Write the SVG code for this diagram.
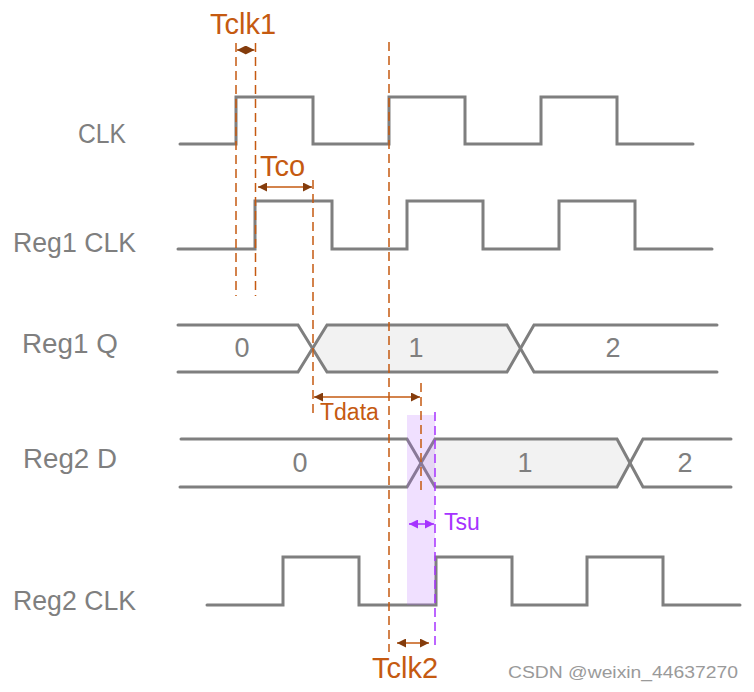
<svg xmlns="http://www.w3.org/2000/svg" width="754" height="692" viewBox="0 0 754 692">
<style>
.wave{fill:none;stroke:#7f7f7f;stroke-width:3;stroke-linecap:round;stroke-linejoin:miter}
.bus{fill:#f2f2f2;stroke:none}
.lbl{font-family:"Liberation Sans",Arial,sans-serif;font-size:27px;fill:#7f7f7f}
.val{font-family:"Liberation Sans",Arial,sans-serif;font-size:27px;fill:#7f7f7f;text-anchor:middle}
.ot{font-family:"Liberation Sans",Arial,sans-serif;fill:#c55a11}
.pt{font-family:"Liberation Sans",Arial,sans-serif;fill:#a633ff}
.od{stroke:#c55a11;stroke-width:1.5;stroke-dasharray:9,5;fill:none}
.pd{stroke:#a633ff;stroke-width:1.5;stroke-dasharray:9,5;fill:none}
.oa{stroke:#c55a11;stroke-width:1.5;fill:none;marker-start:url(#ah);marker-end:url(#ah)}
.pa{stroke:#a633ff;stroke-width:1.5;fill:none;marker-start:url(#ph);marker-end:url(#ph)}
.wm{font-family:"Liberation Sans",Arial,sans-serif;font-size:16px;fill:#9a9a9a}
</style>
<defs>
<marker id="ah" viewBox="0 0 10 10" refX="10" refY="5" markerWidth="6" markerHeight="6" orient="auto-start-reverse" markerUnits="strokeWidth">
<path d="M0,0 L10,5 L0,10 z" fill="#843c0c"/>
</marker>
<marker id="ph" viewBox="0 0 10 10" refX="10" refY="5" markerWidth="6" markerHeight="6" orient="auto-start-reverse" markerUnits="strokeWidth">
<path d="M0,0 L10,5 L0,10 z" fill="#a633ff"/>
</marker>
</defs>
<rect width="754" height="692" fill="#ffffff"/>

<g id="labels">
<text class="lbl" x="78" y="143" textLength="48" lengthAdjust="spacingAndGlyphs">CLK</text>
<text class="lbl" x="13" y="252" textLength="123" lengthAdjust="spacingAndGlyphs">Reg1 CLK</text>
<text class="lbl" x="22" y="353" textLength="96" lengthAdjust="spacingAndGlyphs">Reg1 Q</text>
<text class="lbl" x="23" y="468" textLength="94" lengthAdjust="spacingAndGlyphs">Reg2 D</text>
<text class="lbl" x="13" y="610" textLength="123" lengthAdjust="spacingAndGlyphs">Reg2 CLK</text>
</g>

<g id="clk">
<path class="wave" d="M180,144 H236 V97 H313 V144 H389 V97 H465 V144 H541 V97 H617 V144 H693"/>
</g>
<g id="reg1clk">
<path class="wave" d="M178,249 H255 V201 H332 V249 H407 V201 H483 V249 H559 V201 H635 V249 H712"/>
</g>
<g id="reg1q">
<polygon class="bus" points="312.5,348.5 327,325 507,325 520.5,348.5 507,372 327,372"/>
<path class="wave" d="M178,325 H298 L327,372 H507 L534,325 H717"/>
<path class="wave" d="M178,372 H298 L327,325 H507 L534,372 H717"/>
<text class="val" x="242" y="357">0</text>
<text class="val" x="416" y="357">1</text>
<text class="val" x="613" y="357">2</text>
</g>
<g id="reg2d">
<polygon class="bus" points="421,463 435,439 617,439 630,463 617,487 435,487"/>
<path class="wave" d="M181,439 H407 L435,487 H617 L643,439 H731"/>
<path class="wave" d="M180,487 H407 L435,439 H617 L643,487 H731"/>
<text class="val" x="300" y="472">0</text>
<text class="val" x="525" y="472">1</text>
<text class="val" x="685" y="472">2</text>
</g>
<g id="reg2clk">
<path class="wave" d="M207,605 H283 V557 H359 V605 H436 V557 H512 V605 H587 V557 H663 V605 H740"/>
</g>

<g id="tsu-window">
<rect x="407" y="415" width="28" height="190" fill="#b266ff" fill-opacity="0.2"/>
</g>

<g id="connectors">
<line class="od" x1="236" y1="43" x2="236" y2="296"/>
<line class="od" x1="255.5" y1="43" x2="255.5" y2="296"/>
<line class="od" x1="313" y1="180" x2="313" y2="418"/>
<line class="od" x1="389" y1="42" x2="389" y2="652"/>
<line class="od" x1="421" y1="383" x2="421" y2="495"/>
<line class="pd" x1="435" y1="412" x2="435" y2="645"/>
<line class="oa" x1="237" y1="50" x2="254.5" y2="50"/>
<line class="oa" x1="258" y1="187" x2="312" y2="187"/>
<line class="oa" x1="314" y1="397" x2="420" y2="397"/>
<line class="pa" x1="409" y1="524" x2="434" y2="524"/>
<line class="oa" x1="397" y1="643" x2="429" y2="643"/>
</g>

<g id="timing-labels">
<text class="ot" x="210" y="34" font-size="29">Tclk1</text>
<text class="ot" x="260" y="176" font-size="29">Tco</text>
<text class="ot" x="320" y="420" font-size="23">Tdata</text>
<text class="pt" x="444" y="530" font-size="23">Tsu</text>
<text class="ot" x="372" y="678" font-size="29">Tclk2</text>
</g>

<text class="wm" x="508" y="678" textLength="230" lengthAdjust="spacingAndGlyphs">CSDN @weixin_44637270</text>
</svg>
